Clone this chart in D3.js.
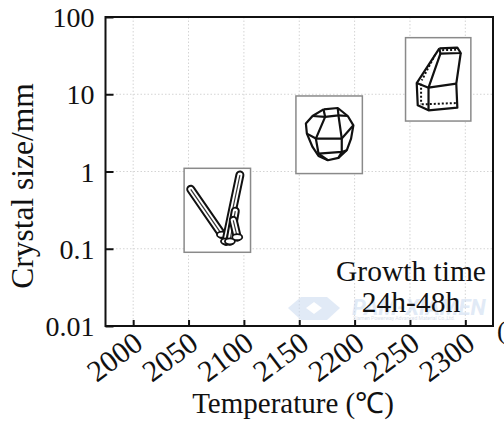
<!DOCTYPE html>
<html>
<head>
<meta charset="utf-8">
<script src="https://cdn.jsdelivr.net/npm/d3@7"></script>
<style>
  body { margin: 0; background: #fff; }
  svg { display: block; }
  text { font-family: "Liberation Serif", "Times New Roman", serif; fill: #111; }
</style>
</head>
<body>
<svg id="chart" width="504" height="429"></svg>
<script>
// Growth windows: temperature range (degC) and crystal size range (mm) per habit
const habits = ["needle", "granular", "prismatic"];
const tempLow = [2046, 2147, 2246];
const tempHigh = [2106, 2207, 2305];
const sizeLow = [0.09, 0.94, 4.5];
const sizeHigh = [1.1, 9.5, 54];

// Axis ticks
const xTicks = [2000, 2050, 2100, 2150, 2200, 2250, 2300];
const yTicks = [0.01, 0.1, 1, 10, 100];
const yTickLabels = ["0.01", "0.1", "1", "10", "100"];
const noteLines = ["Growth time", "24h-48h"];

// Crystal sketches, in box-relative coordinates (0..1)
const glyphs = {
  needle: {
    rods: [[[0.10, 0.25], [0.57, 0.79]], [[0.84, 0.08], [0.63, 0.87]], [[0.77, 0.51], [0.69, 0.87]], [[0.74, 0.62], [0.80, 0.82]]],
    solid: [], dotted: []
  },
  granular: {
    rods: [],
    solid: [
      [[0.415, 0.172], [0.63, 0.155], [0.78, 0.258], [0.865, 0.378], [0.83, 0.549], [0.765, 0.70], [0.64, 0.798], [0.48, 0.828], [0.34, 0.773], [0.25, 0.657], [0.165, 0.485], [0.15, 0.356], [0.25, 0.258], [0.415, 0.172]],
      [[0.415, 0.172], [0.44, 0.27], [0.64, 0.249], [0.63, 0.155]],
      [[0.25, 0.258], [0.44, 0.27]], [[0.64, 0.249], [0.78, 0.258]],
      [[0.44, 0.27], [0.30, 0.549], [0.69, 0.549], [0.64, 0.249]],
      [[0.165, 0.485], [0.30, 0.549]], [[0.69, 0.549], [0.865, 0.378]],
      [[0.30, 0.549], [0.34, 0.742], [0.69, 0.721], [0.69, 0.549]],
      [[0.69, 0.721], [0.765, 0.70]], [[0.34, 0.742], [0.48, 0.828]], [[0.69, 0.721], [0.64, 0.798]]
    ],
    dotted: []
  },
  prismatic: {
    rods: [],
    solid: [
      [[0.518, 0.128], [0.793, 0.12], [0.845, 0.184], [0.534, 0.192], [0.518, 0.128]],
      [[0.518, 0.128], [0.171, 0.544], [0.187, 0.812], [0.352, 0.872], [0.793, 0.84], [0.777, 0.552], [0.845, 0.184]],
      [[0.534, 0.192], [0.352, 0.60], [0.777, 0.552]],
      [[0.171, 0.544], [0.352, 0.60], [0.352, 0.872]]
    ],
    dotted: [
      [[0.456, 0.20], [0.249, 0.512]],
      [[0.238, 0.552], [0.238, 0.80]],
      [[0.249, 0.80], [0.777, 0.784]],
      [[0.56, 0.15], [0.78, 0.145]]
    ]
  }
};

const svg = d3.select("#chart");
const W = 504, H = 429;
const mLeft = 105.5, mRight = 493, mTop = 17, mBottom = 326;

svg.append("rect").attr("width", W).attr("height", H).attr("fill", "#fff");

const x = d3.scaleLinear().domain([1975, 2325]).range([mLeft, mRight]);
const y = d3.scaleLog().domain([0.01, 100]).range([mBottom, mTop]);

// dotted grid
const grid = svg.append("g").attr("stroke", "#d4d4d4").attr("stroke-width", 1).attr("stroke-dasharray", "1.5,2");
grid.selectAll(".gx").data(xTicks).join("line")
  .attr("x1", d => x(d)).attr("x2", d => x(d))
  .attr("y1", mTop).attr("y2", mBottom);
grid.selectAll(".gy").data(yTicks.slice(1, -1)).join("line")
  .attr("x1", mLeft).attr("x2", mRight)
  .attr("y1", d => y(d)).attr("y2", d => y(d));

// watermark
const wm = svg.append("g").attr("opacity", 0.55);
wm.append("polygon").attr("points", "288,308 301,297 327,297 340,308 327,320 301,320").attr("fill", "#c9d9f0");
wm.append("polygon").attr("points", "306,308 314,302 322,308 314,314").attr("fill", "#fff");
wm.append("text").attr("x", 352).attr("y", 315).attr("font-size", 22).attr("font-style", "italic").attr("font-weight", "bold")
  .style("font-family", "Roboto, sans-serif").style("fill", "#c9d9f0").text("PAM-XIAMEN");
wm.append("text").attr("x", 353).attr("y", 320).attr("font-size", 5)
  .style("font-family", "Roboto, sans-serif").style("fill", "#b8c6da").text("Xiamen Powerway Advanced Material Co.,Ltd.");

// growth windows with crystal sketches
const boxes = svg.append("g");
habits.forEach((h, i) => {
  const bx = x(tempLow[i]), bw = x(tempHigh[i]) - bx;
  const by = y(sizeHigh[i]), bh = y(sizeLow[i]) - by;
  const g = boxes.append("g");
  g.append("rect").attr("x", bx).attr("y", by).attr("width", bw).attr("height", bh)
    .attr("fill", "#fff").attr("stroke", "#8a8a8a").attr("stroke-width", 1.5);
  const line = d3.line().x(p => bx + p[0] * bw).y(p => by + p[1] * bh);
  const gl = glyphs[h];
  gl.rods.forEach(r => {
    g.append("path").attr("d", line(r)).attr("stroke", "#111").attr("stroke-width", 9).attr("stroke-linecap", "round");
    g.append("path").attr("d", line(r)).attr("stroke", "#fff").attr("stroke-width", 5).attr("stroke-linecap", "round");
    g.append("path").attr("d", line(r)).attr("stroke", "#333").attr("stroke-width", 1.2);
    const e = r[1];
    g.append("ellipse").attr("cx", bx + e[0] * bw).attr("cy", by + e[1] * bh).attr("rx", 5).attr("ry", 3)
      .attr("fill", "#fff").attr("stroke", "#111").attr("stroke-width", 1.8);
  });
  gl.solid.forEach(s => g.append("path").attr("d", line(s)).attr("fill", "none")
    .attr("stroke", "#111").attr("stroke-width", 2.2).attr("stroke-linejoin", "round"));
  gl.dotted.forEach(s => g.append("path").attr("d", line(s)).attr("fill", "none")
    .attr("stroke", "#111").attr("stroke-width", 2).attr("stroke-dasharray", "2,2"));
});

// axes
const yAxis = svg.append("g").attr("transform", `translate(${mLeft},0)`)
  .call(d3.axisLeft(y).tickValues(yTicks).tickFormat((d, i) => yTickLabels[i]).tickSizeInner(-8).tickSizeOuter(0).tickPadding(11));
yAxis.select(".domain").remove();
yAxis.selectAll(".tick line").attr("stroke", "#111").attr("stroke-width", 2);
yAxis.selectAll("text").attr("font-size", 28).attr("font-family", null).attr("dy", "0.34em");

const xAxis = svg.append("g").attr("transform", `translate(0,${mBottom})`)
  .call(d3.axisBottom(x).tickValues(xTicks).tickFormat(d3.format("d")).tickSizeInner(-6).tickSizeOuter(0));
xAxis.select(".domain").remove();
xAxis.selectAll(".tick line").attr("stroke", "#111").attr("stroke-width", 2);
xAxis.selectAll("text").attr("font-size", 30).attr("font-family", null)
  .attr("text-anchor", "end").attr("x", 11).attr("y", 21).attr("dy", null)
  .attr("transform", "rotate(-37 11 21)");

// frame
svg.append("rect").attr("x", mLeft).attr("y", mTop).attr("width", mRight - mLeft).attr("height", mBottom - mTop)
  .attr("fill", "none").attr("stroke", "#111").attr("stroke-width", 2);

// note
svg.append("g").selectAll("text").data(noteLines).join("text")
  .attr("x", 411).attr("y", (d, i) => 281 + i * 31)
  .attr("text-anchor", "middle").attr("font-size", 29.5).text(d => d);

// axis titles
svg.append("text").attr("transform", "translate(33,186) rotate(-90)")
  .attr("text-anchor", "middle").attr("font-size", 31.5).text("Crystal size/mm");
svg.append("text").attr("x", 293).attr("y", 413)
  .attr("text-anchor", "middle").attr("font-size", 29).text("Temperature (℃)");

// clipped character at the right edge of the source image
svg.append("text").attr("x", 497).attr("y", 339).attr("font-size", 26).text("(");
</script>
</body>
</html>
